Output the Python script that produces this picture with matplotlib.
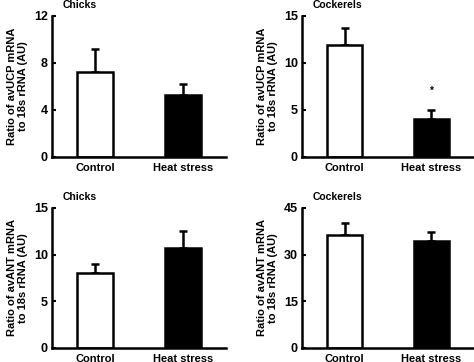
import matplotlib.pyplot as plt
import numpy as np

plt.rcParams['font.family'] = ['Liberation Sans', 'DejaVu Sans']
plt.rcParams['font.weight'] = 'bold'

# data
groups = ['Control', 'Heat stress']
ucp_chicks = [7.2, 5.3]
ucp_chicks_err = [2.0, 0.9]
ucp_cock = [11.9, 4.0]
ucp_cock_err = [1.8, 1.0]
ant_chicks = [8.0, 10.7]
ant_chicks_err = [1.0, 1.8]
ant_cock = [36.3, 34.5]
ant_cock_err = [4.0, 2.8]

fig = plt.figure(figsize=(4.74, 3.62), dpi=100)
W, H = 474, 362


def panel(x0, y_top, y_bot, x1, vals, errs, ymax, yticks, title, ylab, star=None):
    ax = fig.add_axes([x0 / W, 1 - y_bot / H, (x1 - x0) / W, (y_bot - y_top) / H])
    x = np.arange(len(groups))
    ax.errorbar(x, vals, yerr=[np.zeros(len(vals)), errs], fmt='none',
                ecolor='black', elinewidth=1.8, capsize=3, capthick=1.8, zorder=1)
    ax.bar(x, vals, 0.41, color=['white', 'black'], edgecolor='black',
           linewidth=1.8, zorder=2)
    ax.set_xlim(-0.49, 1.49)
    ax.set_ylim(0, ymax)
    ax.set_yticks(yticks)
    ax.set_xticks(x)
    ax.set_xticklabels(groups, fontsize=8, fontweight='bold')
    ax.tick_params(axis='x', length=0, pad=4)
    ax.tick_params(axis='y', direction='in', length=3, width=1.5, labelsize=9, pad=3)
    for lab in ax.get_yticklabels():
        lab.set_fontweight('bold')
    for s in ['top', 'right']:
        ax.spines[s].set_visible(False)
    for s in ['left', 'bottom']:
        ax.spines[s].set_linewidth(1.8)
    ax.set_ylabel(ylab, fontsize=8, fontweight='bold', labelpad=4, linespacing=1.15)
    ax.text(0.06, 1.08, title, transform=ax.transAxes, fontsize=7.5,
            fontweight='bold', ha='left', va='center')
    if star is not None:
        ax.text(1, star, '*', ha='center', va='center', fontsize=7)
    return ax


panel(52, 16, 157, 226, ucp_chicks, ucp_chicks_err, 12, [0, 4, 8, 12], 'Chicks',
      'Ratio of avUCP mRNA\nto 18s rRNA (AU)')
panel(302, 16, 157, 474, ucp_cock, ucp_cock_err, 15, [0, 5, 10, 15], 'Cockerels',
      'Ratio of avUCP mRNA\nto 18s rRNA (AU)', star=7.0)
panel(52, 208, 348, 226, ant_chicks, ant_chicks_err, 15, [0, 5, 10, 15], 'Chicks',
      'Ratio of avANT mRNA\nto 18s rRNA (AU)')
panel(302, 208, 348, 474, ant_cock, ant_cock_err, 45, [0, 15, 30, 45], 'Cockerels',
      'Ratio of avANT mRNA\nto 18s rRNA (AU)')

fig.savefig('out.png', dpi=100)
